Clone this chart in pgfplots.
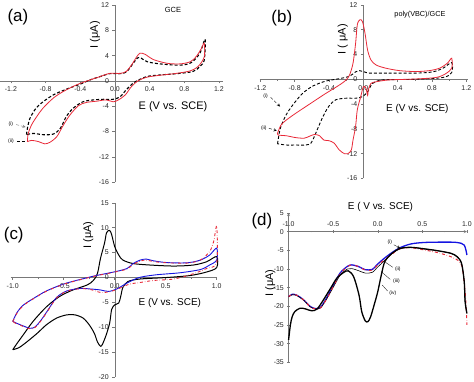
\documentclass[border=0pt]{standalone}
\usepackage{fontspec}
\setmainfont{Liberation Sans}
\usepackage{pgfplots}
\pgfplotsset{compat=1.18}
\definecolor{cvred}{RGB}{232,40,55}
\definecolor{cvblue}{RGB}{20,20,225}
\definecolor{axgray}{RGB}{120,120,120}
\pgfplotsset{
  cv/.style={scale only axis, anchor=south west, axis lines=middle,
    axis line style={axgray,-}, clip=false,
    hide obscured x ticks=false, hide obscured y ticks=false,
    tick style={axgray, line width=0.5bp}, major tick length=2.5bp, minor tick length=1.5bp,
    tick label style={font=\fontsize{7}{8}\selectfont, text=black!85},
    /pgf/number format/assume math mode=true,
    xticklabel style={/pgf/number format/fixed, /pgf/number format/fixed zerofill, /pgf/number format/precision=1},
    yticklabel style={/pgf/number format/fixed, /pgf/number format/precision=0},
    tick align=outside, minor x tick num=1},
}
\tikzset{
  lab/.style={font=\fontsize{11}{12}\selectfont},
  plab/.style={font=\fontsize{17}{19}\selectfont},
  tiny/.style={font=\fontsize{5}{6}\selectfont},
}
\begin{document}
\begin{tikzpicture}
\useasboundingbox (0,0) rectangle (474bp,382bp);
% ---------------- (a)
\begin{axis}[cv, at={(0bp,199.9bp)}, width=223.3bp, height=177bp,
  xmin=-1.326, xmax=1.25, ymin=-16, ymax=12,
  xtick={-1.2,-0.8,-0.4,0,0.4,0.8,1.2}, ytick={-16,-12,-8,-4,0,4,8,12}]
\addplot[black, densely dashed, line width=1.1bp, smooth, tension=0.5] coordinates {
(-1.02,-8.5) (-1.01,-7.5) (-0.98,-5.9) (-0.91,-4.3) (-0.83,-3.3) (-0.71,-2.2) (-0.56,-1.3) (-0.40,-0.5) (-0.29,0.15) (-0.17,0.7) (-0.06,1.15) (0.06,1.15) (0.13,1.4) (0.19,2.4) (0.25,3.5) (0.29,3.7) (0.37,3.05) (0.52,2.7) (0.75,2.5) (0.88,2.9) (0.98,4.4) (1.04,6.6) (1.03,3.3) (0.98,2.3) (0.9,1.5) (0.71,1.15) (0.52,0.95) (0.37,0.7) (0.25,0.0) (0.21,-0.35) (0.13,-1.4) (0.06,-2.5) (-0.02,-2.9) (-0.13,-2.9) (-0.25,-3.0) (-0.37,-3.3) (-0.48,-4.3) (-0.56,-5.6) (-0.63,-7.5) (-0.71,-8.4) (-0.83,-8.5) (-0.94,-8.3) (-1.02,-8.5)};
\addplot[cvred, line width=0.8bp, smooth, tension=0.5] coordinates {
(-1.01,-9.6) (-1.0,-8.3) (-0.96,-6.9) (-0.90,-5.6) (-0.83,-4.3) (-0.71,-2.7) (-0.60,-1.7) (-0.44,-0.6) (-0.29,0.15) (-0.17,0.7) (-0.06,1.2) (0.06,1.2) (0.13,1.5) (0.19,2.5) (0.25,3.8) (0.29,4.4) (0.35,4.2) (0.44,3.4) (0.60,2.8) (0.75,2.7) (0.87,3.05) (0.94,3.9) (1.0,5.2) (1.03,6.0) (1.03,3.8) (0.96,2.3) (0.87,1.6) (0.71,1.2) (0.52,0.9) (0.37,0.6) (0.27,0.05) (0.19,-0.9) (0.12,-2.2) (0.04,-3.0) (-0.02,-3.3) (-0.10,-3.0) (-0.21,-3.2) (-0.33,-3.4) (-0.42,-3.9) (-0.52,-5.4) (-0.60,-7.1) (-0.67,-8.8) (-0.75,-9.7) (-0.81,-9.95) (-0.88,-9.6) (-0.96,-9.4) (-1.01,-9.6)};
\node[lab, rotate=90] at (axis cs:-0.23,7.3) {I (μA)};
\node[lab] at (axis cs:0.67,-4.1) {E (V vs. SCE)};
\node[font=\fontsize{7.5}{9}\selectfont] at (axis cs:0.67,11.2) {GCE};
\node[plab] at (axis cs:-1.12,10.1) {(a)};
\node[tiny] at (axis cs:-1.2,-6.85) {(i)};
\draw[axgray, densely dashed, ->, >=stealth] (axis cs:-1.14,-6.9) -- (axis cs:-1.03,-7.3);
\node[tiny] at (axis cs:-1.2,-9.6) {(ii)};
\draw[black, densely dashed] (axis cs:-1.13,-9.6) -- (axis cs:-1.03,-9.6);
\end{axis}
% ---------------- (b)
\begin{axis}[cv, at={(259.5bp,203.5bp)}, width=208.5bp, height=173.6bp,
  xmin=-1.21, xmax=1.22, ymin=-16, ymax=12,
  xtick={-1.2,-0.8,-0.4,0,0.4,0.8,1.2}, ytick={-16,-12,-8,-4,0,4,8,12}]
\addplot[black, densely dashed, line width=0.9bp, smooth, tension=0.5] coordinates {
(-1.0,-10.4) (-0.98,-8.7) (-0.96,-7.6) (-0.90,-5.75) (-0.82,-4.1) (-0.71,-2.3) (-0.59,-1.1) (-0.44,-0.3) (-0.28,0.1) (-0.16,0.5) (-0.09,1.2) (-0.05,1.4) (0.01,1.2) (0.07,1.0) (0.23,1.0) (0.61,1.0) (0.81,1.2) (0.93,1.8) (1.03,2.7) (1.03,1.1) (0.93,0.3) (0.61,0.0) (0.23,-0.1) (0.11,-0.65) (0.05,-2.0) (-0.01,-2.8) (-0.09,-3.05) (-0.2,-3.05) (-0.32,-3.3) (-0.40,-4.3) (-0.47,-6.0) (-0.53,-7.9) (-0.57,-9.2) (-0.61,-10.3) (-0.67,-10.6) (-0.79,-10.6) (-0.90,-10.6) (-1.0,-10.4)};
\addplot[cvred, line width=0.8bp, smooth, tension=0.5] coordinates {
(-1.0,-8.7) (-0.96,-7.4) (-0.90,-6.6) (-0.79,-5.5) (-0.67,-4.4) (-0.55,-3.3) (-0.44,-2.3) (-0.34,-1.45) (-0.26,-0.75) (-0.20,-0.1) (-0.16,0.7) (-0.12,2.6) (-0.09,5.8) (-0.07,8.8) (-0.04,9.6) (-0.01,9.3) (0.02,7.4) (0.05,4.7) (0.09,3.1) (0.15,2.3) (0.26,1.8) (0.42,1.4) (0.61,1.25) (0.77,1.4) (0.89,1.8) (0.98,2.6) (1.03,3.4) (1.03,1.8) (0.96,0.9) (0.85,0.3) (0.61,0.05) (0.30,-0.1) (0.15,-0.4) (0.09,-0.65) (0.06,-1.6) (0.05,-2.6) (0.03,-1.4) (0.0,-1.2) (-0.03,-2.8) (-0.07,-4.9) (-0.09,-7.6) (-0.12,-9.8) (-0.14,-11.4) (-0.18,-12.0) (-0.22,-12) (-0.28,-11.4) (-0.34,-10.3) (-0.40,-9.9) (-0.46,-9.8) (-0.51,-9.1) (-0.57,-8.9) (-0.63,-9.2) (-0.69,-9.5) (-0.79,-9.4) (-0.90,-9.1) (-0.99,-9.0) (-1.0,-8.7)};
\node[lab, rotate=90] at (axis cs:-0.24,6.45) {I ( μA)};
\node[font=\fontsize{10}{12}\selectfont] at (axis cs:0.63,-4.7) {E (V vs. SCE)};
\node[font=\fontsize{7.3}{9}\selectfont] at (axis cs:0.66,10.4) {poly(VBC)/GCE};
\node[plab] at (axis cs:-0.95,9.8) {(b)};
\node[tiny] at (axis cs:-1.14,-2.8) {(i)};
\draw[black, densely dashed, ->, >=stealth] (axis cs:-1.08,-2.9) -- (axis cs:-0.97,-4.4);
\node[tiny] at (axis cs:-1.16,-7.9) {(ii)};
\draw[black, densely dashed, ->, >=stealth] (axis cs:-1.10,-7.9) -- (axis cs:-1.01,-8.3);
\end{axis}
% ---------------- (c)
\begin{axis}[cv, at={(10.7bp,4.9bp)}, width=206bp, height=174.3bp,
  xmin=-1.02, xmax=1.0, ymin=-20, ymax=15,
  xtick={-1,-0.5,0,0.5,1}, ytick={-20,-15,-10,-5,0,5,10,15}]
\addplot[black, line width=1.0bp, smooth, tension=0.5] coordinates {
(-1.0,-14.5) (-0.96,-13.3) (-0.90,-11.6) (-0.80,-8.8) (-0.67,-5.9) (-0.54,-3.8) (-0.41,-2.5) (-0.27,-1.5) (-0.21,-0.6) (-0.17,0.75) (-0.14,3.8) (-0.10,6.9) (-0.08,9.0) (-0.05,9.45) (-0.03,8.6) (0.0,6.2) (0.04,4.5) (0.08,3.5) (0.18,2.8) (0.35,2.5) (0.58,2.3) (0.77,2.5) (0.9,3.15) (1.0,4.2)
(1.0,2.0) (0.9,1.1) (0.74,0.4) (0.51,0) (0.25,-0.3) (0.13,-0.8) (0.08,-2.0) (0.06,-3.7) (0.04,-5.1) (0.0,-5.5) (-0.03,-6.4) (-0.05,-9.2) (-0.085,-11.6) (-0.12,-13.4) (-0.14,-13.8) (-0.17,-12.9) (-0.20,-11.2) (-0.25,-9.5) (-0.31,-8.15) (-0.39,-7.5) (-0.47,-7.5) (-0.57,-8.15) (-0.67,-9.5) (-0.76,-11.2) (-0.86,-12.9) (-0.94,-14.1) (-1.0,-14.5)};
\addplot[cvblue, line width=0.9bp, smooth, tension=0.5] coordinates {
(-1.0,-8.8) (-0.96,-7.1) (-0.90,-5.6) (-0.80,-4.25) (-0.67,-2.7) (-0.50,-1.3) (-0.34,-0.4) (-0.18,0.4) (-0.01,1.1) (0.12,1.8) (0.18,2.8) (0.25,3.5) (0.31,3.7) (0.38,3.35) (0.51,3.0) (0.71,2.95) (0.84,3.5) (0.93,4.5) (1.0,5.9)
(1.0,3.5) (0.93,2.5) (0.84,1.6) (0.64,0.95) (0.41,0.55) (0.25,0.05) (0.15,-0.8) (0.08,-1.6) (0.02,-2.3) (-0.06,-2.8) (-0.14,-2.5) (-0.24,-2.3) (-0.34,-2.2) (-0.47,-2.7) (-0.57,-4.0) (-0.65,-6.4) (-0.72,-8.5) (-0.78,-9.9) (-0.83,-10.2) (-0.90,-9.7) (-0.96,-9.2) (-1.0,-8.8)};
\addplot[cvred, dash dot, line width=0.9bp, smooth, tension=0.5] coordinates {
(-1.0,-8.9) (-0.96,-7.2) (-0.90,-5.7) (-0.80,-4.3) (-0.67,-2.75) (-0.50,-1.35) (-0.34,-0.45) (-0.18,0.35) (-0.01,1.05) (0.12,1.7) (0.18,2.6) (0.25,3.3) (0.31,3.5) (0.38,3.2) (0.51,2.95) (0.71,2.9) (0.84,3.5) (0.93,5.2) (0.97,7.2) (1.0,10.3)
(1.0,3.0) (0.9,1.8) (0.77,0.75) (0.58,-0.3) (0.38,-0.6) (0.25,-1.0) (0.15,-1.3) (0.08,-1.85) (0.02,-2.4) (-0.06,-2.9) (-0.14,-3.0) (-0.24,-2.4) (-0.34,-2.25) (-0.47,-2.75) (-0.57,-4.1) (-0.65,-6.5) (-0.72,-8.6) (-0.78,-10.0) (-0.83,-10.3) (-0.90,-9.8) (-0.96,-9.3) (-1.0,-8.9)};
\node[lab, rotate=90] at (axis cs:-0.26,8.5) {I (μA)};
\node[font=\fontsize{10}{12}\selectfont] at (axis cs:0.54,-5.2) {E (V vs. SCE)};
\node[plab] at (axis cs:-0.99,8.5) {(c)};
\end{axis}
% ---------------- (d)
\begin{axis}[cv, at={(288.6bp,19.7bp)}, width=178.3bp, height=149.3bp,
  axis x line=middle, axis y line=left,
  xmin=-1.0, xmax=1.0, ymin=-35, ymax=5,
  xtick={-1,-0.5,0,0.5,1}, ytick={-35,-30,-25,-20,-15,-10,-5,0,5},
  x tick label style={anchor=south, yshift=3bp}]
\addplot[cvblue, line width=1.3bp, smooth, tension=0.5] coordinates {
(-1.0,-17.4) (-0.96,-16.8) (-0.91,-17.0) (-0.83,-18.3) (-0.76,-20.0) (-0.70,-20.6) (-0.64,-20.2) (-0.57,-17.6) (-0.49,-14.0) (-0.42,-11.0) (-0.34,-9.3) (-0.29,-8.9) (-0.21,-9.4) (-0.14,-10.2) (-0.06,-10.1) (-0.01,-8.9) (0.07,-7.2) (0.16,-5.6) (0.25,-4.3) (0.37,-3.3) (0.52,-2.9) (0.74,-2.8) (0.89,-2.9) (0.97,-3.6) (1.0,-6.25)};
\addplot[black, line width=0.6bp, smooth, tension=0.5] coordinates {
(-1.0,-17.5) (-0.96,-16.9) (-0.91,-17.1) (-0.83,-18.4) (-0.76,-20.1) (-0.70,-20.7) (-0.64,-20.4) (-0.57,-17.9) (-0.49,-14.5) (-0.42,-11.6) (-0.34,-10.0) (-0.29,-9.9) (-0.21,-10.5) (-0.14,-11.1) (-0.06,-10.9) (-0.01,-9.7) (0.07,-7.9) (0.16,-5.9) (0.25,-4.6) (0.37,-4.2) (0.52,-4.6) (0.67,-5.1) (0.82,-5.8) (0.89,-6.7) (0.94,-8.5) (0.97,-13.4) (0.98,-18.75) (1.0,-21.9)};
\addplot[cvred, dash dot, line width=1.0bp, smooth, tension=0.5] coordinates {
(-1.0,-17.4) (-0.96,-16.8) (-0.91,-17.0) (-0.83,-18.3) (-0.76,-20.1) (-0.70,-20.7) (-0.64,-20.4) (-0.57,-17.9) (-0.49,-14.3) (-0.42,-11.2) (-0.34,-9.4) (-0.29,-8.9) (-0.21,-9.4) (-0.14,-10.3) (-0.06,-10.3) (-0.01,-9.1) (0.07,-7.6) (0.16,-6.0) (0.25,-4.6) (0.37,-4.3) (0.52,-4.9) (0.67,-5.6) (0.82,-6.7) (0.91,-7.9) (0.95,-9.8) (0.98,-16.1) (0.995,-21.4) (1.0,-25)};
\addplot[black, line width=1.3bp, smooth, tension=0.5] coordinates {
(-1.0,-29) (-0.98,-25) (-0.96,-22.8) (-0.93,-21.4) (-0.87,-20.5) (-0.81,-20.7) (-0.74,-21.2) (-0.68,-20.7) (-0.61,-18.3) (-0.53,-15.2) (-0.46,-12.5) (-0.38,-10.9) (-0.33,-10.5) (-0.27,-12.1) (-0.21,-17) (-0.18,-21.4) (-0.14,-23.9) (-0.11,-24.1) (-0.08,-22.8) (-0.04,-19.6) (0.0,-16.1) (0.04,-11.6) (0.08,-8.0) (0.16,-5.8) (0.25,-4.5) (0.37,-4.2) (0.52,-4.6) (0.67,-5.1) (0.82,-5.8) (0.89,-6.7) (0.94,-8.5) (0.97,-13.4) (0.98,-18.75) (1.0,-21.9)};
\node[lab, rotate=90] at (axis cs:-1.205,-13.8) {I (μA)};
\node[font=\fontsize{10}{12}\selectfont] at (axis cs:0.03,6.7) {E ( V vs. SCE)};
\node[plab] at (axis cs:-1.30,2.7) {(d)};
\node[tiny] at (axis cs:0.135,-2.9) {(i)};
\draw[black, ->, >=stealth, line width=0.3bp] (axis cs:0.18,-3.5) -- (axis cs:0.25,-4.4);
\node[tiny] at (axis cs:0.225,-10) {(ii)};
\draw[black, line width=0.3bp] (axis cs:0.17,-9.55) -- (axis cs:0.086,-8.2);
\node[tiny] at (axis cs:0.21,-13.4) {(iii)};
\draw[black, line width=0.3bp] (axis cs:0.14,-12.8) -- (axis cs:0.04,-10.7);
\node[tiny] at (axis cs:0.17,-16.5) {(iv)};
\draw[black, line width=0.3bp] (axis cs:0.11,-15.9) -- (axis cs:0.05,-14.3);
\end{axis}
\end{tikzpicture}
\end{document}
